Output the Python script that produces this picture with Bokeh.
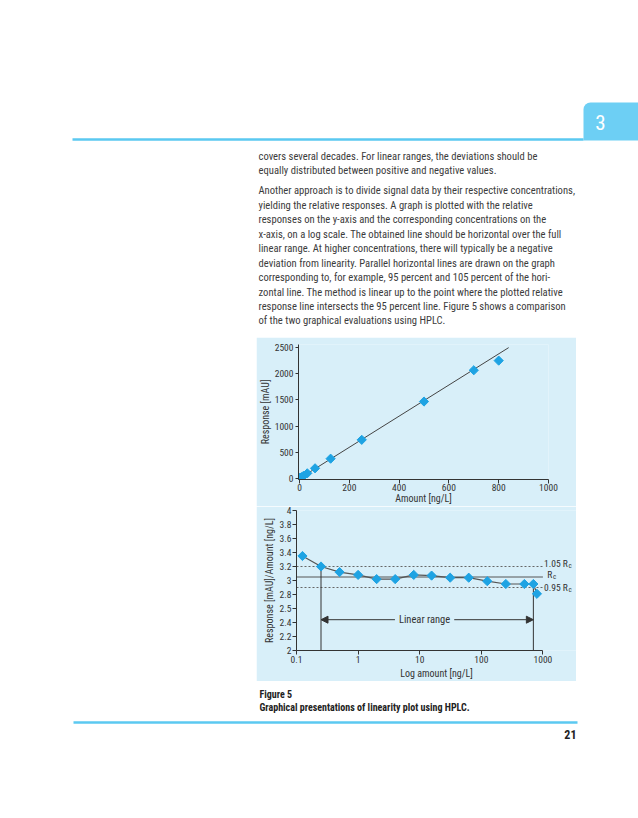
from bokeh.plotting import figure
from bokeh.models import Range1d, FixedTicker, Label, Arrow, NormalHead, Spacer
from bokeh.layouts import column, row
from bokeh.core.properties import value
from bokeh.embed import file_html
from bokeh.resources import INLINE

# ---------------- data ----------------
amount = [0.125, 0.25, 0.5, 1, 2, 4, 8, 15.6, 31.25, 62.5, 125, 250, 500, 700, 800]
response = [0.4, 0.8, 1.6, 3.1, 6.0, 12, 24, 48, 98, 194, 378, 738, 1470, 2068, 2252]
relative = [3.35, 3.20, 3.12, 3.08, 3.02, 3.02, 3.08, 3.07, 3.04, 3.04, 2.99, 2.95, 2.95, 2.95, 2.81]
fit_x = [0, 840]
fit_y = [0, 2500]
rc = 3.05
rc_hi = 3.20
rc_lo = 2.90
ref_x = [0.1, 1000]
lin_lo = 0.25
lin_lo_y = 3.20
lin_hi = 700
lin_hi_y = 2.95
lin_y = 2.44
lin_label_x = 12
x1_ticks = [0, 200, 400, 600, 800, 1000]
y1_ticks = [0, 500, 1000, 1500, 2000, 2500]
x2_ticks = [0.1, 1, 10, 100, 1000]
x2_labels = ["0.1", "1", "10", "100", "1000"]
y2_ticks = [2, 2.2, 2.4, 2.6, 2.8, 3, 3.2, 3.4, 3.6, 3.8, 4]
y2_labels = ["2", "2.2", "2.4", "2.5", "2.8", "3", "3.2", "3.4", "3.6", "3.8", "4"]

para1 = [
    "covers several decades. For linear ranges, the deviations should be",
    "equally distributed between positive and negative values.",
]
para2 = [
    "Another approach is to divide signal data by their respective concentrations,",
    "yielding the relative responses. A graph is plotted with the relative",
    "responses on the y-axis and the corresponding concentrations on the",
    "x-axis, on a log scale. The obtained line should be horizontal over the full",
    "linear range. At higher concentrations, there will typically be a negative",
    "deviation from linearity. Parallel horizontal lines are drawn on the graph",
    "corresponding to, for example, 95 percent and 105 percent of the hori-",
    "zontal line. The method is linear up to the point where the plotted relative",
    "response line intersects the 95 percent line. Figure 5 shows a comparison",
    "of the two graphical evaluations using HPLC.",
]
caption_title = "Figure 5"
caption_text = "Graphical presentations of linearity plot using HPLC."
page_number = "21"
chapter = "3"

# ---------------- styles ----------------
FONT = "Roboto Condensed"
BOX = "#d8eff9"
MARK = "#1ea3e3"
RULE = "#5bc9f1"
TAB = "#6dcff4"
INK = "#333333"
TXT = "#3c3c3c"
W = 638
H1 = 169
H2 = 175


def page_fig(h):
    p = figure(width=W, height=h, x_range=Range1d(0, W), y_range=Range1d(h, 0),
               output_backend="svg", toolbar_location=None, min_border=0,
               x_axis_type=None, y_axis_type=None)
    p.outline_line_color = None
    p.background_fill_color = "white"
    p.border_fill_color = "white"
    p.grid.visible = False
    return p


# ---------------- top page part ----------------
TOP_H = 337
top = page_fig(TOP_H)
top.quad(left=[583], right=[645], top=[102], bottom=[140], fill_color=TAB,
         line_color=None, border_radius=(7, 0, 0, 0))
top.text(x=[600], y=[122], text=[chapter], text_font=value(FONT), text_font_size="21px",
         text_color="white", text_align="center", text_baseline="middle")
top.segment(x0=[72], y0=[139], x1=[583], y1=[139], line_color=RULE, line_width=2.5)

lh = 14.45
ys = [156 + i * lh for i in range(len(para1))]
y0 = ys[-1] + lh + 5.5
ys += [y0 + i * lh for i in range(len(para2))]
top.text(x=[258] * len(ys), y=ys, text=para1 + para2, text_font=value(FONT),
         text_font_size="10.6px", text_color=TXT, text_align="left", text_baseline="middle")


def style_axes(p):
    for ax in p.axis:
        ax.axis_line_color = INK
        ax.major_tick_line_color = INK
        ax.minor_tick_line_color = None
        ax.major_tick_in = 0
        ax.major_label_text_font = FONT
        ax.major_label_text_font_size = "9.5px"
        ax.major_label_text_color = INK
        ax.axis_label_text_font = FONT
        ax.axis_label_text_font_size = "10px"
        ax.axis_label_text_font_style = "normal"
        ax.axis_label_text_color = INK
    p.grid.visible = False
    p.outline_line_color = None
    p.background_fill_color = BOX
    p.border_fill_color = BOX


# ---------------- chart 1 ----------------
p1 = figure(width=320, height=H1, x_range=Range1d(-4, 1000), y_range=Range1d(-20, 2560),
            output_backend="svg", toolbar_location=None,
            min_border_left=41, min_border_right=28, min_border_top=7, min_border_bottom=25,
            x_axis_label="Amount [ng/L]", y_axis_label="Response [mAU]")
style_axes(p1)
p1.xaxis.ticker = FixedTicker(ticks=x1_ticks)
p1.yaxis.ticker = FixedTicker(ticks=y1_ticks)
p1.xaxis.major_tick_out = 4
p1.yaxis.major_tick_out = 3
p1.xaxis.major_label_standoff = 0
p1.xaxis.axis_label_standoff = -1
p1.yaxis.major_label_standoff = 2
p1.yaxis.axis_label_standoff = 1
p1.line(fit_x, fit_y, line_color="#444444", line_width=1)
p1.scatter(amount, response, marker="square", angle=0.785398, size=6.5,
           fill_color=MARK, line_color=MARK)

# ---------------- chart 2 ----------------
p2 = figure(width=320, height=H2, x_axis_type="log", x_range=Range1d(0.1, 3510),
            y_range=Range1d(2, 4), output_backend="svg", toolbar_location=None,
            min_border_left=40, min_border_right=0, min_border_top=4, min_border_bottom=31,
            x_axis_label="Log amount [ng/L]", y_axis_label="Response [mAU]/Amount [ng/L]")
style_axes(p2)
p2.xaxis.bounds = (0.1, 1000)
p2.xaxis.ticker = FixedTicker(ticks=x2_ticks)
p2.xaxis.major_label_overrides = {t: l for t, l in zip(x2_ticks, x2_labels)}
p2.yaxis.ticker = FixedTicker(ticks=y2_ticks)
p2.yaxis.major_label_overrides = {t: l for t, l in zip(y2_ticks, y2_labels)}
p2.xaxis.major_tick_out = 4
p2.yaxis.major_tick_out = 4
p2.xaxis.major_label_standoff = 1
p2.xaxis.axis_label_standoff = 2
p2.yaxis.major_label_standoff = 1
p2.yaxis.axis_label_standoff = 2

p2.line(ref_x, [rc, rc], line_color="#555555", line_width=1)
p2.line(ref_x, [rc_hi, rc_hi], line_color="#666666", line_width=1, line_dash="2 2")
p2.line(ref_x, [rc_lo, rc_lo], line_color="#666666", line_width=1, line_dash="2 2")
p2.segment(x0=[lin_lo, lin_hi], y0=[2, 2], x1=[lin_lo, lin_hi], y1=[lin_lo_y, lin_hi_y],
           line_color=INK, line_width=1)
p2.line(amount, relative, line_color="#555555", line_width=1.2)
p2.scatter(amount, relative, marker="square", angle=0.785398, size=6.5,
           fill_color=MARK, line_color=MARK)

p2.add_layout(Arrow(x_start=lin_lo, y_start=lin_y, x_end=lin_hi, y_end=lin_y,
                    line_color=INK, line_width=1,
                    start=NormalHead(size=7, fill_color=INK, line_color=INK),
                    end=NormalHead(size=7, fill_color=INK, line_color=INK)))
p2.add_layout(Label(x=lin_label_x, y=lin_y, text="Linear range", text_font=FONT,
                    text_font_size="10.5px", text_color=INK, text_align="center",
                    text_baseline="middle", background_fill_color=BOX, padding=4))

# reference-line labels: main part right-aligned, subscript "c" starts where it ends
for yv, txt, dy, xe in [(rc_hi, "1.05 R", 3, 25), (rc, "R", 3, 9.5), (rc_lo, "0.95 R", 0, 25)]:
    p2.add_layout(Label(x=1000, y=yv, x_offset=xe, y_offset=dy, text=txt, text_font=FONT,
                        text_font_size="9.5px", text_color=INK, text_align="right",
                        text_baseline="middle"))
    p2.add_layout(Label(x=1000, y=yv, x_offset=xe + 0.5, y_offset=dy - 2.5, text="c",
                        text_font=FONT, text_font_size="7px", text_color=INK,
                        text_baseline="middle"))

# ---------------- bottom page part ----------------
BOT_H = 130
bot = page_fig(BOT_H)
bot.text(x=[259], y=[13], text=[caption_title], text_font=value(FONT), text_font_size="10px",
         text_font_style="bold", text_color="#222222", text_baseline="middle")
bot.text(x=[259], y=[25.5], text=[caption_text], text_font=value(FONT), text_font_size="10px",
         text_font_style="bold", text_color="#222222", text_baseline="middle")
bot.segment(x0=[73], y0=[41], x1=[577], y1=[41], line_color=RULE, line_width=2.5)
bot.text(x=[576], y=[52.5], text=[page_number], text_font=value(FONT), text_font_size="12px",
         text_font_style="bold", text_color="#222222", text_align="right", text_baseline="middle")

layout = column(
    top,
    row(Spacer(width=256, height=H1), p1, Spacer(width=62, height=H1)),
    row(Spacer(width=256, height=H2), p2, Spacer(width=62, height=H2)),
    bot,
)

open("out.html", "w").write(file_html(layout, INLINE))
